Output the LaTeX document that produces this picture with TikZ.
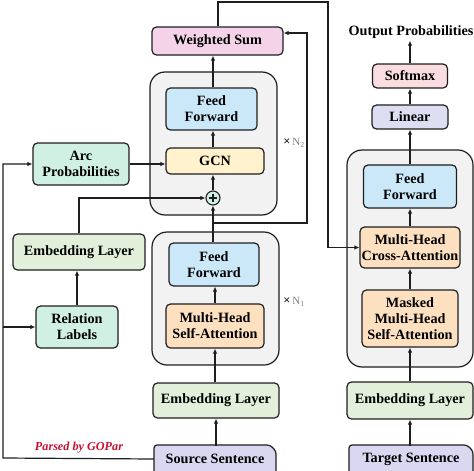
\documentclass[tikz,border=0pt]{standalone}
\usepackage{fontspec}
\setmainfont{Liberation Serif}
\usetikzlibrary{arrows.meta}
\definecolor{wsc}{HTML}{F4D3E8}
\definecolor{ffc}{HTML}{CBE8F8}
\definecolor{gcnc}{HTML}{FFF2CC}
\definecolor{mintc}{HTML}{D0F0E4}
\definecolor{embc}{HTML}{E2EFDA}
\definecolor{mhac}{HTML}{FCE0C0}
\definecolor{softc}{HTML}{F9DDE0}
\definecolor{linc}{HTML}{DCDEF2}
\definecolor{sentc}{HTML}{DAD7F0}
\definecolor{contc}{HTML}{F2F2F2}
\definecolor{linec}{HTML}{1E1E1E}
\definecolor{parsec}{HTML}{C8102E}
\begin{document}
\begin{tikzpicture}[x=1pt,y=-1pt,
  box/.style={draw=linec, line width=1.2pt, rounded corners=4.5pt, align=center,
    inner sep=1pt, font=\fontsize{14.2}{16}\selectfont\bfseries},
  cont/.style={draw=linec, line width=1.2pt, rounded corners=15pt, fill=contc},
  arr/.style={draw=linec, line width=1.2pt, -{Latex[length=5pt,width=4.5pt]}},
  nlab/.style={font=\fontsize{11}{12}\selectfont, text=gray},
  pluss/.style={circle, draw=linec, line width=1.1pt, fill=mintc, minimum size=14pt, inner sep=0pt,
    path picture={\draw[line width=1.2pt, linec] (path picture bounding box.center) ++(-4.2,0) -- ++(8.4,0)
      (path picture bounding box.center) ++(0,-4.2) -- ++(0,8.4);}}
]
\useasboundingbox (0,0) rectangle (474,471);
% containers
\node[cont, minimum width=127pt, minimum height=143pt] (c2) at (213.5,143.5) {};
\node[cont, minimum width=127pt, minimum height=133pt] (c1) at (215.5,298.5) {};
\node[cont, minimum width=126pt, minimum height=217pt] (c3) at (410,258.5) {};
% GCN branch
\node[box, fill=wsc, minimum width=131pt, minimum height=28pt] (ws) at (217.5,41) {Weighted Sum};
\node[box, fill=ffc, minimum width=91pt, minimum height=42pt] (ff2) at (211.5,109) {Feed\\Forward};
\node[box, fill=gcnc, minimum width=98pt, minimum height=26pt] (gcn) at (215,161) {GCN};
\node[pluss] (plus) at (213,198) {};
\node[nlab] (n2) at (294,143) {\textcolor{linec}{\fontsize{12.5}{12}\selectfont\textbf{×}}\,N\textsubscript{2}};
% left
\node[box, fill=mintc, minimum width=96pt, minimum height=42pt] (arc) at (81,164) {Arc\\Probabilities};
\node[box, fill=embc, minimum width=132pt, minimum height=36pt] (emb0) at (79,252) {Embedding Layer};
\node[box, fill=mintc, minimum width=82pt, minimum height=42pt] (rel) at (77,327) {Relation\\Labels};
\node[font=\fontsize{12.2}{13}\selectfont\bfseries\itshape, text=parsec] (gopar) at (79,448) {Parsed by GOPar};
% encoder
\node[box, fill=ffc, minimum width=90pt, minimum height=43pt] (ff1) at (214,264.5) {Feed\\Forward};
\node[box, fill=mhac, minimum width=98pt, minimum height=44pt] (mha1) at (215,326) {Multi-Head\\Self-Attention};
\node[nlab] (n1) at (294,302) {\textcolor{linec}{\fontsize{12.5}{12}\selectfont\textbf{×}}\,N\textsubscript{1}};
\node[box, fill=embc, minimum width=126pt, minimum height=35pt] (emb1) at (216,400.5) {Embedding Layer};
\filldraw[draw=linec, fill=sentc, line width=1.2pt, rounded corners=3pt]
  (154,476) -- (154,445) -- (270,445) -- (276,451) -- (276,476) -- cycle;
\node[font=\fontsize{14.2}{16}\selectfont\bfseries, minimum width=122pt, minimum height=26pt, inner sep=0pt] (src) at (215,459) {Source Sentence};
% decoder
\node[font=\fontsize{14.2}{16}\selectfont\bfseries, inner sep=2pt] (out) at (411,32) {Output Probabilities};
\node[box, fill=softc, minimum width=75pt, minimum height=24pt] (soft) at (410,76) {Softmax};
\node[box, fill=linc, minimum width=76pt, minimum height=24pt] (lin) at (410,117) {Linear};
\node[box, fill=ffc, minimum width=93pt, minimum height=43pt] (ff3) at (410,186.5) {Feed\\Forward};
\node[box, fill=mhac, minimum width=100pt, minimum height=41pt] (cross) at (410,247.5) {Multi-Head\\Cross-Attention};
\node[box, fill=mhac, minimum width=96pt, minimum height=57pt] (mask) at (410,318.5) {Masked\\Multi-Head\\Self-Attention};
\node[box, fill=embc, minimum width=126pt, minimum height=37pt] (emb2) at (410,400.5) {Embedding Layer};
\filldraw[draw=linec, fill=sentc, line width=1.2pt, rounded corners=3pt]
  (349,476) -- (349,445) -- (467,445) -- (473,451) -- (473,476) -- cycle;
\node[font=\fontsize{14.2}{16}\selectfont\bfseries, minimum width=124pt, minimum height=26pt, inner sep=0pt] (tgt) at (411,459) {Target Sentence};
% coordinates
\coordinate (br) at (213,223);
\coordinate (skipc) at (307,223);
\coordinate (topl) at (218,2);
\coordinate (topr) at (328,2);
\coordinate (lft) at (3,458);
\coordinate (lrel) at (3,327);
% encoder flow
\draw[arr] (src.north -| emb1) -- (emb1.south);
\draw[arr] (emb1.north -| mha1) -- (mha1.south);
\draw[arr] (mha1.north) -- (mha1.north |- ff1.south);
\draw[arr] (ff1.north -| plus) -- (plus.south);
\draw[arr] (plus.north) -- (plus.north |- gcn.south);
\draw[arr] (gcn.north -| plus) -- (ff2.south -| plus);
\draw[arr] (ff2.north -| plus) -- (ws.south -| plus);
% skip to weighted sum
\draw[arr] (br) -- (skipc) |- (ws.east |- 0,33);
% weighted sum to cross attention
\draw[arr] (ws.north -| topl) -- (topl) -- (topr) |- (cross.west);
% left side
\draw[arr] (src.west) -- (lft) |- (arc.west);
\draw[arr] (lrel) -- (rel.west);
\draw[arr] (rel.north) -- (rel.north |- emb0.south);
\draw[arr] (emb0.north) |- (plus.west);
\draw[arr] (arc.east) -- (gcn.west |- arc.east);
% decoder flow
\draw[arr] (tgt.north -| emb2) -- (emb2.south);
\draw[arr] (emb2.north) -- (mask.south);
\draw[arr] (mask.north) -- (cross.south);
\draw[arr] (cross.north) -- (ff3.south);
\draw[arr] (ff3.north) -- (lin.south);
\draw[arr] (lin.north) -- (soft.south);
\draw[arr] (soft.north) -- (out.south -| soft);
\end{tikzpicture}
\end{document}
